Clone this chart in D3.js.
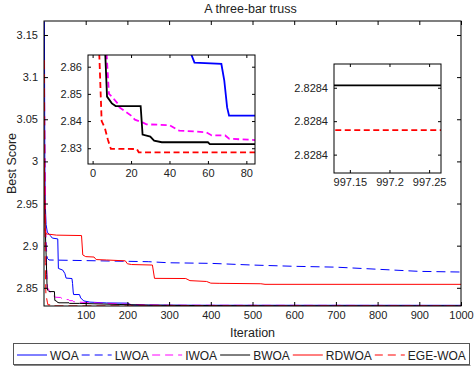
<!DOCTYPE html>
<html>
<head>
<meta charset="utf-8">
<script src="https://cdn.jsdelivr.net/npm/d3@7/dist/d3.min.js"></script>
<style>
  body { margin: 0; background: #fff; }
  svg { font-family: Arial, "Liberation Sans", sans-serif; }
</style>
</head>
<body>
<div id="chart"></div>
<script>
// Convergence curves, [iteration, best score]
var woa = [[1, 3.166], [2, 3.0], [3, 2.95], [5, 2.925], [8, 2.916], [15, 2.912],
  [20, 2.909], [33, 2.908], [34.5, 2.873], [45, 2.871], [50, 2.867], [53, 2.8615],
  [67, 2.861], [68.5, 2.855], [70, 2.845], [71, 2.842], [85, 2.842], [88, 2.838],
  [95, 2.8345], [110, 2.833], [150, 2.832], [200, 2.8318], [210, 2.8295],
  [400, 2.8293], [1000, 2.8292]];
var lwoa = [[1, 3.07], [2, 3.0], [3, 2.93], [5, 2.9], [8, 2.885], [12, 2.883],
  [250, 2.881], [300, 2.8797], [400, 2.879], [500, 2.877], [600, 2.8755],
  [700, 2.8745], [800, 2.872], [900, 2.8695], [1000, 2.8687]];
var iwoa = [[1, 3.12], [2, 3.0], [4, 2.92], [6, 2.88], [7, 2.868], [8.5, 2.85],
  [10, 2.849], [13, 2.8465], [14, 2.845], [17, 2.8435], [20, 2.842], [22, 2.8405],
  [26, 2.8395], [28, 2.8388], [40, 2.8385], [45, 2.8365], [59, 2.8359],
  [62, 2.8347], [69, 2.8347], [71, 2.8335], [85, 2.833], [100, 2.8325],
  [150, 2.8315], [200, 2.8305], [250, 2.8298], [300, 2.8293], [1000, 2.829]];
var bwoa = [[1, 2.97], [3, 2.92], [5, 2.89], [6.5, 2.866], [7.5, 2.849],
  [10, 2.8465], [12, 2.8455], [25, 2.8455], [26, 2.835], [30, 2.8343],
  [32, 2.8328], [36, 2.8322], [60, 2.8322], [61, 2.8315], [85, 2.8315],
  [120, 2.831], [180, 2.8302], [250, 2.8294], [400, 2.8288],
  [600, 2.8284307], [1000, 2.8284307]];
var rdwoa = [[1, 3.0], [2, 2.93], [3, 2.918], [5, 2.914], [30, 2.9125],
  [90, 2.912], [93, 2.889], [100, 2.887], [120, 2.8865], [125, 2.8835],
  [150, 2.883], [195, 2.882], [200, 2.8785], [210, 2.8776], [260, 2.877],
  [265, 2.8612], [340, 2.861], [350, 2.8585], [390, 2.8575], [400, 2.8555],
  [420, 2.8553], [520, 2.8548], [530, 2.8541], [1000, 2.8541]];
var egeWoa = [[1, 3.12], [2, 2.95], [3, 2.88], [3.5, 2.864], [4.7, 2.84],
  [6.4, 2.8374], [8, 2.833], [9.5, 2.8298], [23, 2.8297], [24, 2.8285],
  [300, 2.8284173], [1000, 2.8284173]];

var seriesNames = ['WOA', 'LWOA', 'IWOA', 'BWOA', 'RDWOA', 'EGE-WOA'];
var seriesData = [woa, lwoa, iwoa, bwoa, rdwoa, egeWoa];

// Tick values for the three axes
var mainXTicks = [100, 200, 300, 400, 500, 600, 700, 800, 900, 1000];
var mainYTicks = [2.85, 2.9, 2.95, 3, 3.05, 3.1, 3.15];
var zoomXTicks = [0, 20, 40, 60, 80];
var zoomYTicks = [2.83, 2.84, 2.85, 2.86];
var tailXTicks = [997.15, 997.2, 997.25];
var tailYTicks = [2.82841, 2.82842, 2.82843];

var styles = {
  'WOA':     { color: '#0000ff', dash: null },
  'LWOA':    { color: '#0000ff', dash: 'long' },
  'IWOA':    { color: '#ff00ff', dash: 'long' },
  'BWOA':    { color: '#000000', dash: null },
  'RDWOA':   { color: '#ff0000', dash: null },
  'EGE-WOA': { color: '#ff0000', dash: 'long' }
};

var W = 474, H = 366;
var svg = d3.select('#chart').append('svg')
    .attr('width', W).attr('height', H);
svg.append('rect').attr('width', W).attr('height', H).attr('fill', '#fff');

var clipCount = 0;

/**
 * Only keep the points inside the x window plus one neighbour on each side,
 * so the far away points do not blow up the coordinates.
 */
function windowed(data, x0, x1) {
  var out = [];
  for (var i = 0; i < data.length; i++) {
    var prevIn = i > 0 && data[i - 1][0] >= x0;
    var nextIn = i < data.length - 1 && data[i + 1][0] <= x1;
    var inside = data[i][0] >= x0 && data[i][0] <= x1;
    if (inside || (data[i][0] < x0 && nextIn) || (data[i][0] > x1 && prevIn) ||
        (data[i][0] < x0 && i < data.length - 1 && data[i + 1][0] > x1) ||
        (data[i][0] > x1 && i > 0 && data[i - 1][0] < x0)) {
      out.push(data[i]);
    }
  }
  return out;
}

/**
 * Draw one boxed axes with inward ticks on all four sides.
 */
function drawAxes(o) {
  var g = svg.append('g');
  var x = d3.scaleLinear().domain(o.xDomain).range([o.left, o.right]);
  var y = d3.scaleLinear().domain(o.yDomain).range([o.bottom, o.top]);
  var id = 'clip' + (clipCount++);

  g.append('clipPath').attr('id', id).append('rect')
      .attr('x', o.left).attr('y', o.top)
      .attr('width', o.right - o.left).attr('height', o.bottom - o.top);

  g.append('rect')
      .attr('x', o.left).attr('y', o.top)
      .attr('width', o.right - o.left).attr('height', o.bottom - o.top)
      .attr('fill', '#fff');

  var line = d3.line()
      .x(function(d) { return x(d[0]); })
      .y(function(d) { return y(d[1]); });

  var lines = g.append('g').attr('clip-path', 'url(#' + id + ')');
  for (var i = 0; i < seriesNames.length; i++) {
    var st = styles[seriesNames[i]];
    var pts = windowed(seriesData[i], o.xDomain[0], o.xDomain[1]);
    lines.append('path')
        .attr('d', line(pts))
        .attr('fill', 'none')
        .attr('stroke', st.color)
        .attr('stroke-width', o.lineWidth)
        .attr('stroke-dasharray', st.dash ? o.dash : null);
  }

  var fmt = o.yFormat || function(d) { return String(+d.toFixed(2)); };
  var xfmt = o.xFormat || function(d) { return String(d); };
  var tl = o.tickLen;

  function style(sel) {
    sel.select('.domain').remove();
    sel.selectAll('line').attr('stroke', '#000');
    sel.selectAll('text').attr('fill', '#222').style('font-size', '11px')
        .attr('font-family', null);
  }

  g.append('g').attr('transform', 'translate(0,' + o.bottom + ')')
      .call(d3.axisBottom(x).tickValues(o.xTicks).tickSizeInner(-tl)
          .tickSizeOuter(0).tickPadding(5).tickFormat(xfmt))
      .call(style);
  g.append('g').attr('transform', 'translate(0,' + o.top + ')')
      .call(d3.axisTop(x).tickValues(o.xTicks).tickSizeInner(-tl)
          .tickSizeOuter(0).tickFormat(''))
      .call(style);
  g.append('g').attr('transform', 'translate(' + o.left + ',0)')
      .call(d3.axisLeft(y).tickValues(o.yTicks).tickSizeInner(-tl)
          .tickSizeOuter(0).tickPadding(6).tickFormat(fmt))
      .call(style);
  g.append('g').attr('transform', 'translate(' + o.right + ',0)')
      .call(d3.axisRight(y).tickValues(o.yTicks).tickSizeInner(-tl)
          .tickSizeOuter(0).tickFormat(''))
      .call(style);

  g.append('rect')
      .attr('x', o.left).attr('y', o.top)
      .attr('width', o.right - o.left).attr('height', o.bottom - o.top)
      .attr('fill', 'none').attr('stroke', '#000').attr('stroke-width', 1);

  return g;
}

// Main axes
drawAxes({
  left: 44, right: 461, top: 21, bottom: 306,
  xDomain: [0, 1000], yDomain: [2.8284, 3.1666],
  xTicks: mainXTicks, yTicks: mainYTicks,
  lineWidth: 1, dash: '9,5', tickLen: 4
});

// Zoom on the first iterations
drawAxes({
  left: 88, right: 255, top: 55, bottom: 164,
  xDomain: [-2.4, 84.5], yDomain: [2.8242, 2.8643],
  xTicks: zoomXTicks, yTicks: zoomYTicks,
  lineWidth: 1.8, dash: '6,3.5', tickLen: 3
});

// Zoom on the tail
drawAxes({
  left: 334, right: 441, top: 64, bottom: 173,
  xDomain: [997.13, 997.265], yDomain: [2.8284045, 2.8284371],
  xTicks: tailXTicks, yTicks: tailYTicks,
  yFormat: function(d) { return d.toFixed(4); },
  lineWidth: 1.8, dash: '6,3.5', tickLen: 3
});

// Labels
svg.append('text').attr('x', 250.5).attr('y', 13)
    .attr('text-anchor', 'middle').style('font-size', '12.5px')
    .attr('fill', '#222').text('A three-bar truss');
svg.append('text').attr('x', 252.5).attr('y', 337)
    .attr('text-anchor', 'middle').style('font-size', '12.5px')
    .attr('fill', '#222').text('Iteration');
svg.append('text')
    .attr('transform', 'translate(16,163.5) rotate(-90)')
    .attr('text-anchor', 'middle').style('font-size', '12.5px')
    .attr('fill', '#222').text('Best Score');

// Legend
var legend = svg.append('g');
legend.append('rect').attr('x', 13.5).attr('y', 343.5)
    .attr('width', 456).attr('height', 21)
    .attr('fill', '#fff').attr('stroke', '#555').attr('stroke-width', 1);
legend.append('line').attr('x1', 14).attr('x2', 470.5)
    .attr('y1', 365.5).attr('y2', 365.5).attr('stroke', '#888');
var lx = 17, ly = 355;
for (var i = 0; i < seriesNames.length; i++) {
  var st = styles[seriesNames[i]];
  legend.append('line')
      .attr('x1', lx).attr('x2', lx + 30).attr('y1', ly).attr('y2', ly)
      .attr('stroke', st.color).attr('stroke-width', 1)
      .attr('stroke-dasharray', st.dash ? '8,5' : null);
  var t = legend.append('text').attr('x', lx + 33).attr('y', ly + 4.5)
      .style('font-size', '12px').attr('fill', '#222').text(seriesNames[i]);
  lx = lx + 33 + t.node().getComputedTextLength() + 3;
}
</script>
</body>
</html>
